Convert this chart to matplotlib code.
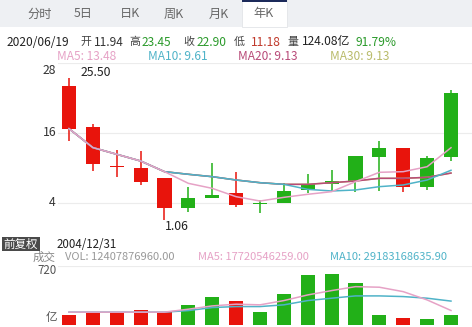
import numpy as np
import matplotlib
matplotlib.use('Agg')
import matplotlib.pyplot as plt
from matplotlib.patches import Rectangle

plt.rcParams['font.family'] = ['Noto Sans CJK SC', 'DejaVu Sans']

# yearly candles 2004 .. 2020
opens  = [24.06, 17.03, 10.30, 9.94, 8.23, 3.20, 4.91, 5.77, 3.78, 3.94, 6.23, 7.20, 7.77, 11.94, 13.37, 6.80, 11.94]
highs  = [25.50, 17.49, 13.09, 12.97, 8.23, 6.69, 10.80, 9.26, 4.51, 7.37, 8.97, 9.66, 12.06, 14.63, 13.37, 12.06, 23.45]
lows   = [14.63, 9.49, 8.40, 7.09, 1.06, 2.40, 4.91, 3.37, 2.34, 3.94, 5.66, 6.06, 5.83, 6.06, 5.94, 6.23, 11.18]
closes = [16.74, 10.63, 10.12, 7.65, 3.20, 4.80, 5.37, 3.65, 3.92, 6.06, 7.20, 7.77, 12.06, 13.37, 6.80, 11.66, 22.90]

ma5  = [16.74, 13.5, 12.35, 11.2, 9.37, 7.37, 6.51, 5.08, 4.34, 4.97, 5.49, 5.94, 7.65, 9.26, 9.37, 10.22, 13.48]
ma10 = [16.74, 13.5, 12.35, 11.2, 9.37, 8.92, 8.51, 7.94, 7.48, 7.20, 6.34, 6.06, 6.23, 6.80, 7.09, 7.94, 9.61]
ma20 = [16.74, 13.5, 12.35, 11.2, 9.37, 8.92, 8.51, 7.94, 7.48, 7.20, 7.20, 7.48, 7.77, 8.23, 8.23, 8.40, 9.13]
ma30 = [16.74, 13.5, 12.35, 11.2, 9.37, 8.92, 8.51, 7.94, 7.48, 7.20, 7.20, 7.48, 7.77, 8.23, 8.23, 8.40, 9.13]

# volume in 亿
vol = [124.08, 152, 152, 185, 157, 246, 347, 294, 164, 379, 610, 623, 517, 116, 84, 72, 124.08]
vma5 = [157, 157, 157, 157, 157, 193, 233, 254, 246, 298, 367, 420, 468, 461, 407, 306, 177.2]
vma10 = [157, 157, 157, 157, 157, 176, 213, 225, 225, 246, 298, 327, 355, 355, 347, 327, 291.8]

price_ticks = [28, 16, 4]
tabs = ['分时', '5日', '日K', '周K', '月K', '年K']

W, H = 472, 327
RED = '#e8140c'
GREEN = '#22b018'
PINK = '#e6a2c6'
TEAL = '#4fb3c8'
MAROON = '#b84a78'
OLIVE = '#b9bb6a'

fig = plt.figure(figsize=(W / 100, H / 100), dpi=100)


def box(l, t, r, b):
    return [l / W, 1 - b / H, (r - l) / W, (b - t) / H]


def txt(x, y, s, **kw):
    kw.setdefault('fontsize', 8.3)
    kw.setdefault('va', 'center')
    fig.text(x / W, 1 - y / H, s, **kw)


# tab bar
fig.patches.append(Rectangle((0, 1 - 27 / H), 1, 27 / H, transform=fig.transFigure,
                             facecolor='#eef0f3', edgecolor='none'))
fig.patches.append(Rectangle((242 / W, 1 - 27 / H), 45 / W, 27 / H, transform=fig.transFigure,
                             facecolor='white', edgecolor='#e2e4e8', lw=0.6))
fig.patches.append(Rectangle((242 / W, 1 - 2 / H), 45 / W, 2 / H, transform=fig.transFigure,
                             facecolor='#1c2a5a', edgecolor='none'))
for cx, t in zip([40, 83, 130, 174, 219, 264], tabs):
    txt(cx, 14, t, ha='center', color='#666666', fontsize=8.8)

# info line
info = [(7, '2020/06/19', '#222222'), (94, '11.94', '#333333'), (142, '23.45', '#2a9a2a'),
        (197, '22.90', '#2a9a2a'), (251, '11.18', '#c0392b'), (302, '124.08亿', '#222222'),
        (355, '91.79%', '#2a9a2a')]
for x, s, c in info:
    txt(x, 42, s, color=c, fontsize=8.6)
for x, s in [(80, '开'), (129, '高'), (183, '收'), (234, '低'), (287, '量')]:
    txt(x, 42, s, color='#444444', fontsize=7.9)

for x, s, c in [(57, 'MA5: 13.48', PINK), (148, 'MA10: 9.61', TEAL),
                (238, 'MA20: 9.13', MAROON), (330, 'MA30: 9.13', OLIVE)]:
    txt(x, 57, s, color=c, fontsize=8.6)

# price panel
x = np.arange(len(opens))
ax = fig.add_axes(box(58, 63, 472, 228))
ax.set_xlim(-0.46, 16.88)
ax.set_ylim(16 - 95 / 5.833, 28)
ax.axis('off')
for v in price_ticks:
    ax.axhline(v, color='#ececec', lw=0.8, zorder=0)

for i in x:
    o, c = opens[i], closes[i]
    col = GREEN if c >= o else RED
    ax.vlines(i, lows[i], highs[i], color=col, lw=1.1, zorder=2)
    hgt = max(abs(c - o), 0.22)
    ax.bar(i, hgt, bottom=min(o, c), width=0.59, color=col, zorder=3)

ax.plot(x, ma30, color=OLIVE, lw=1.1, zorder=4)
ax.plot(x, ma20, color=MAROON, lw=1.1, zorder=4)
ax.plot(x, ma10, color=TEAL, lw=1.1, zorder=4)
ax.plot(x, ma5, color=PINK, lw=1.1, zorder=5)

txt(56, 71, '28', ha='right', color='#333333', fontsize=8.8)
txt(56, 133, '16', ha='right', color='#333333', fontsize=8.8)
txt(56, 202, '4', ha='right', color='#333333', fontsize=8.8)
txt(96, 72, '25.50', ha='center', color='#222222', fontsize=8.8)
txt(165, 226, '1.06', color='#222222', fontsize=8.8)

# hover info
fig.patches.append(Rectangle((2 / W, 1 - 251 / H), 38 / W, 14 / H, transform=fig.transFigure,
                             facecolor='#4a4a4a', edgecolor='none'))
txt(21, 244, '前复权', ha='center', color='white', fontsize=8.3)
txt(57, 245, '2004/12/31', color='#222222', fontsize=8.3)
txt(33, 257, '成交', color='#888888', fontsize=8.3)
txt(65, 257, 'VOL: 12407876960.00', color='#999999', fontsize=8)
txt(198, 257, 'MA5: 17720546259.00', color=PINK, fontsize=8)
txt(330, 257, 'MA10: 29183168635.90', color=TEAL, fontsize=8)
txt(57, 270, '720', ha='right', color='#555555', fontsize=8.3)
txt(57, 318, '亿', ha='right', color='#555555', fontsize=8.3)

# volume panel
axv = fig.add_axes(box(58, 266, 472, 325))
axv.set_xlim(-0.46, 16.88)
axv.set_ylim(0, 720)
axv.axis('off')
axv.axhline(720, color='#ececec', lw=0.8, zorder=0)
vcols = [GREEN if closes[i] >= opens[i] else RED for i in x]
axv.bar(x, vol, width=0.59, color=vcols, zorder=2)
axv.plot(x, vma10, color=TEAL, lw=1.1, zorder=3)
axv.plot(x, vma5, color=PINK, lw=1.1, zorder=3)

fig.savefig('out.png', dpi=100)
